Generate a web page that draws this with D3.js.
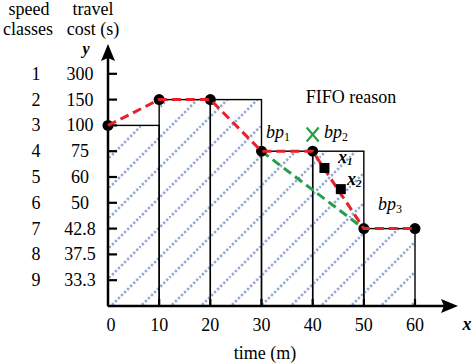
<!DOCTYPE html>
<html>
<head>
<meta charset="utf-8">
<script src="https://cdn.jsdelivr.net/npm/d3@7"></script>
<style>
  body { margin: 0; background: #fff; }
  svg text { font-family: "Liberation Serif", "Times New Roman", Times, "DejaVu Serif", serif; }
</style>
</head>
<body>
<div id="svg-container"></div>
<script>
////////////////////////////////////////////////////////////////////
////////////////////////////  Data  ////////////////////////////////
const speedClasses = [1, 2, 3, 4, 5, 6, 7, 8, 9];
const travelCosts = ["300", "150", "100", "75", "60", "50", "42.8", "37.5", "33.3"];
const timeTicks = [0, 10, 20, 30, 40, 50, 60];
// each bar: start time, speed class of the interval
const barStart = [0, 10, 20, 30, 40, 50];
const barClass = [3, 2, 2, 4, 4, 7];
// red dashed path (time, class)
const redPath = [[0, 3], [10, 2], [20, 2], [30, 4], [40, 4], [50, 7], [60, 7]];
const greenPath = [[30, 4], [50, 7]];
const dots = [[0, 3], [10, 2], [20, 2], [30, 4], [40, 4], [50, 7], [60, 7]];
const squares = [[42.3, 4.65], [45.5, 5.47]];
const crossMark = [40, 3.35];

////////////////////////////////////////////////////////////////////
////////////////////////////  Init  ////////////////////////////////
const width = 474;
const height = 363;
const serif = "'Liberation Serif', 'Times New Roman', Times, serif";

const svg = d3.select("#svg-container").append("svg")
  .attr("width", width).attr("height", height)
  .attr("font-family", serif);

const xScale = d3.scaleLinear().domain([0, 60]).range([108, 415]);
const yScale = d3.scaleLinear().domain([0, 10]).range([48, 306]);
const x0 = xScale(0), yBase = yScale(10);

// hatch pattern
const hs = 30;
const defs = svg.append("defs");
const pat = defs.append("pattern")
  .attr("id", "hatch")
  .attr("patternUnits", "userSpaceOnUse")
  .attr("width", hs).attr("height", hs)
  .attr("x", x0 + 3).attr("y", yBase);
pat.append("line")
  .attr("x1", -2).attr("y1", hs + 2).attr("x2", hs + 2).attr("y2", -2)
  .attr("stroke", "#94aacf")
  .attr("stroke-width", 2.6)
  .attr("stroke-dasharray", "2.4,1.9");

// bars
svg.selectAll("rect.bar")
  .data(barStart)
  .enter()
  .append("rect")
  .attr("class", "bar")
  .attr("x", (d) => xScale(d))
  .attr("y", (d, i) => yScale(barClass[i]))
  .attr("width", (d) => xScale(d + 10) - xScale(d))
  .attr("height", (d, i) => yBase - yScale(barClass[i]))
  .attr("fill", "url(#hatch)")
  .attr("stroke", "#000")
  .attr("stroke-width", 1.4);

// axes
const axisG = svg.append("g");
axisG.append("line")
  .attr("x1", x0).attr("y1", yBase).attr("x2", 446).attr("y2", yBase)
  .attr("stroke", "#000").attr("stroke-width", 2.5);
axisG.append("line")
  .attr("x1", x0).attr("y1", yBase).attr("x2", x0).attr("y2", 58)
  .attr("stroke", "#000").attr("stroke-width", 2.5);
axisG.append("path")
  .attr("d", `M458,${yBase} L441,${yBase - 7} L444,${yBase} L441,${yBase + 7} Z`)
  .attr("fill", "#000");
axisG.append("path")
  .attr("d", `M${x0},44 L${x0 - 7},61 L${x0},58 L${x0 + 7},61 Z`)
  .attr("fill", "#000");

// y ticks (inside)
axisG.selectAll("line.ytick")
  .data(speedClasses)
  .enter()
  .append("line")
  .attr("x1", x0).attr("x2", x0 + 9)
  .attr("y1", (d) => yScale(d)).attr("y2", (d) => yScale(d))
  .attr("stroke", "#000").attr("stroke-width", 2.2);

// x ticks
axisG.selectAll("line.xtick")
  .data(timeTicks.slice(1))
  .enter()
  .append("line")
  .attr("x1", (d) => xScale(d)).attr("x2", (d) => xScale(d))
  .attr("y1", yBase).attr("y2", yBase - 7)
  .attr("stroke", "#000").attr("stroke-width", 2.2);

// y labels
svg.selectAll("text.cls")
  .data(speedClasses)
  .enter()
  .append("text")
  .attr("x", 36).attr("y", (d) => yScale(d) + 6)
  .attr("text-anchor", "middle")
  .attr("font-size", 18)
  .text((d) => d);

svg.selectAll("text.cost")
  .data(travelCosts)
  .enter()
  .append("text")
  .attr("x", 80).attr("y", (d, i) => yScale(speedClasses[i]) + 6)
  .attr("text-anchor", "middle")
  .attr("font-size", 18)
  .text((d) => d);

// x labels
svg.selectAll("text.xl")
  .data(timeTicks)
  .enter()
  .append("text")
  .attr("x", (d) => xScale(d) + (d === 0 ? 3 : 0))
  .attr("y", 331)
  .attr("text-anchor", "middle")
  .attr("font-size", 18)
  .text((d) => d);

// headers
const header = [
  ["speed", 29, 15], ["classes", 28, 35], ["travel", 93, 15], ["cost (s)", 93, 35]
];
svg.selectAll("text.hd")
  .data(header)
  .enter()
  .append("text")
  .attr("x", (d) => d[1]).attr("y", (d) => d[2])
  .attr("text-anchor", "middle")
  .attr("font-size", 18)
  .text((d) => d[0]);

svg.append("text").attr("x", 86).attr("y", 54)
  .attr("text-anchor", "middle")
  .attr("font-size", 16).attr("font-style", "italic").attr("font-weight", "bold")
  .text("y");
svg.append("text").attr("x", 467).attr("y", 330)
  .attr("text-anchor", "middle")
  .attr("font-size", 18).attr("font-style", "italic").attr("font-weight", "bold")
  .text("x");
svg.append("text").attr("x", 265).attr("y", 359)
  .attr("text-anchor", "middle")
  .attr("font-size", 18)
  .text("time (m)");

svg.append("text").attr("x", 351).attr("y", 103)
  .attr("text-anchor", "middle")
  .attr("font-size", 18)
  .text("FIFO reason");

// lines
const line = d3.line().x((d) => xScale(d[0])).y((d) => yScale(d[1]));

svg.append("path")
  .datum(greenPath)
  .attr("d", line)
  .attr("fill", "none")
  .attr("stroke", "#25a047")
  .attr("stroke-width", 3)
  .attr("stroke-dasharray", "9,5");

// dots
svg.selectAll("circle.pt")
  .data(dots)
  .enter()
  .append("circle")
  .attr("cx", (d) => xScale(d[0]))
  .attr("cy", (d) => yScale(d[1]))
  .attr("r", 5.5)
  .attr("fill", "#000");

svg.append("path")
  .datum(redPath)
  .attr("d", line)
  .attr("fill", "none")
  .attr("stroke", "#e8202a")
  .attr("stroke-width", 3)
  .attr("stroke-dasharray", "9,5");

// squares
svg.selectAll("rect.sq")
  .data(squares)
  .enter()
  .append("rect")
  .attr("x", (d) => xScale(d[0]) - 5)
  .attr("y", (d) => yScale(d[1]) - 5)
  .attr("width", 10).attr("height", 10)
  .attr("fill", "#000");

// green cross
const cx = xScale(crossMark[0]), cy = yScale(crossMark[1]);
svg.append("path")
  .attr("d", `M${cx - 6},${cy - 7} L${cx + 6},${cy + 7} M${cx + 6},${cy - 7} L${cx - 6},${cy + 7}`)
  .attr("stroke", "#25a047")
  .attr("stroke-width", 2.2)
  .attr("fill", "none");

// point labels
const ptLabels = [
  ["bp", "1", 266, 138], ["bp", "2", 324, 138], ["bp", "3", 378, 210]
];
ptLabels.forEach((p) => {
  const t = svg.append("text").attr("x", p[2]).attr("y", p[3])
    .attr("font-size", 18).attr("font-style", "italic");
  t.append("tspan").text(p[0]);
  t.append("tspan").attr("font-size", 12).attr("dy", 3).attr("font-style", "normal").text(p[1]);
});

const xLabels = [["x", "1", 338, 163], ["x", "2", 347, 185]];
xLabels.forEach((p) => {
  const t = svg.append("text").attr("x", p[2]).attr("y", p[3])
    .attr("font-size", 18).attr("font-style", "italic").attr("font-weight", "bold");
  t.append("tspan").text(p[0]);
  t.append("tspan").attr("font-size", 11).attr("dy", 2).text(p[1]);
});
</script>
</body>
</html>
